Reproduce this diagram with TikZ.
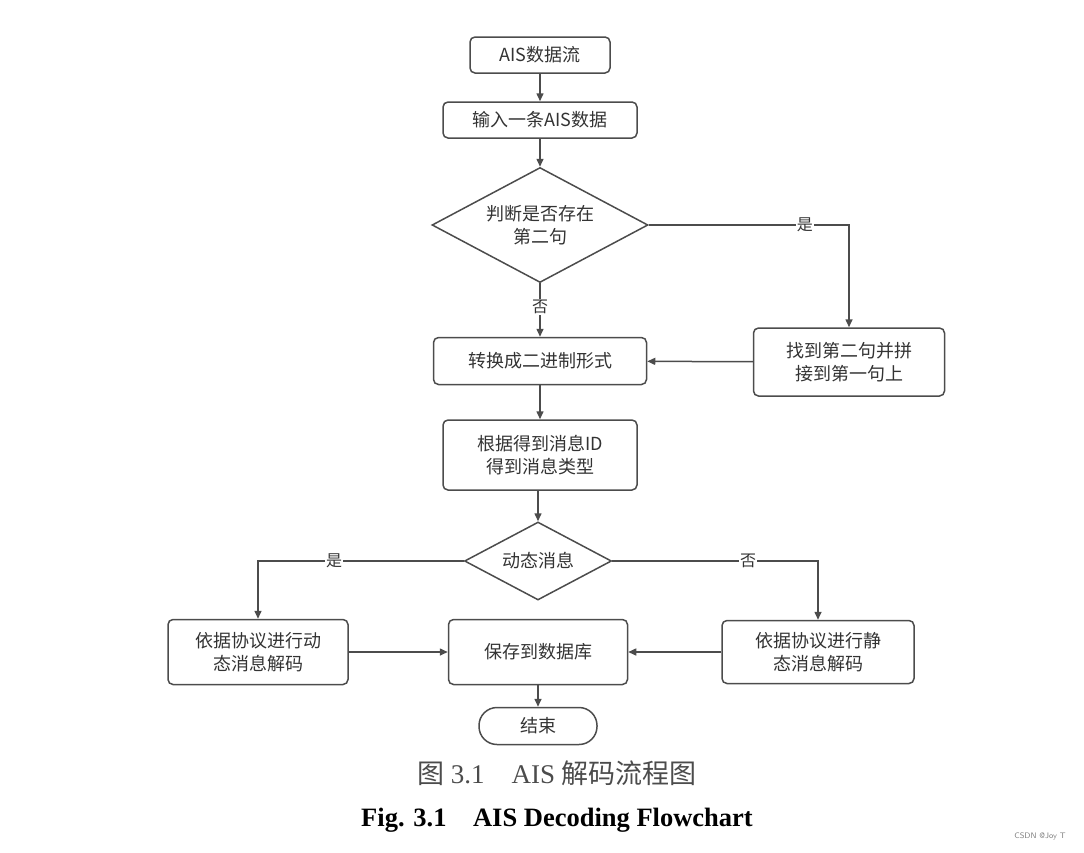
\documentclass[tikz,border=0pt]{standalone}
\usepackage{fontspec}
\setmainfont{Liberation Serif}
\newfontfamily\cjk{Noto Sans CJK SC}
\usetikzlibrary{shapes.geometric,arrows.meta}
\begin{document}
\begin{tikzpicture}[x=1pt,y=-1pt,
  bx/.style={draw=black!70,line width=1.5pt,rounded corners=5pt,minimum height=36pt,align=center,font=\cjk\fontsize{18}{23}\selectfont,inner sep=2pt,text=black!80},
  dm/.style={draw=black!70,line width=1.5pt,diamond,aspect=1.85,inner sep=0pt,align=center,font=\cjk\fontsize{18}{23}\selectfont,text=black!80},
  ar/.style={draw=black!70,line width=1.5pt,-{Triangle[length=8pt,width=7pt]}},
  lb/.style={fill=white,inner sep=1pt,font=\cjk\fontsize{16}{18}\selectfont,text=black!80}]
\useasboundingbox (0,0) rectangle (1084,852);
\node[bx,minimum width=140pt] (a) at (540,55) {AIS数据流};
\node[bx,minimum width=194pt] (b) at (540,120) {输入一条AIS数据};
\node[dm,minimum width=216pt,minimum height=115pt] (c) at (540,225) {判断是否存在\\第二句};
\node[bx,minimum width=213pt,minimum height=47pt] (d) at (540,361) {转换成二进制形式};
\node[bx,minimum width=191pt,minimum height=68pt] (e) at (849,362) {找到第二句并拼\\接到第一句上};
\node[bx,minimum width=194pt,minimum height=70pt] (f) at (540,455) {根据得到消息ID\\得到消息类型};
\node[dm,minimum width=147pt,minimum height=78pt] (g) at (538,561) {动态消息};
\node[bx,minimum width=180pt,minimum height=65pt] (h) at (258,652) {依据协议进行动\\态消息解码};
\node[bx,minimum width=179pt,minimum height=65pt] (i) at (538,652) {保存到数据库};
\node[bx,minimum width=192pt,minimum height=63pt] (j) at (818,652) {依据协议进行静\\态消息解码};
\node[bx,rounded corners=18pt,minimum width=118pt,minimum height=37pt] (k) at (538,726) {结束};
\coordinate (c1) at (e.north |- c.east);
\coordinate (g1) at (h.north |- g.west);
\coordinate (g2) at (j.north |- g.east);
\draw[ar] (a) -- (b);
\draw[ar] (b) -- (c);
\draw[ar] (c) -- node[lb,pos=0.45]{否} (d);
\draw[ar] (c.east) -- node[lb,pos=0.78]{是} (c1) -- (e.north);
\draw[ar] (e) -- (d);
\draw[ar] (d) -- (f.north -| d);
\draw[ar] (f.south -| g) -- (g);
\draw[ar] (g.west) -- node[lb,pos=0.63]{是} (g1) -- (h.north);
\draw[ar] (g.east) -- node[lb,pos=0.66]{否} (g2) -- (j.north);
\draw[ar] (h) -- (i);
\draw[ar] (j) -- (i);
\draw[ar] (i) -- (k);
\node[font=\fontsize{27}{30}\selectfont,text=black!70] (t1) at (557,773) {{\cjk 图} 3.1\quad AIS {\cjk 解码流程图}};
\node[font=\bfseries\fontsize{26.5}{30}\selectfont] (t2) at (557,820) {Fig. 3.1\quad AIS Decoding Flowchart};
\node[font=\sffamily\fontsize{8}{9}\selectfont,text=black!50] (t3) at (1040,836) {CSDN @Joy T};
\end{tikzpicture}
\end{document}
